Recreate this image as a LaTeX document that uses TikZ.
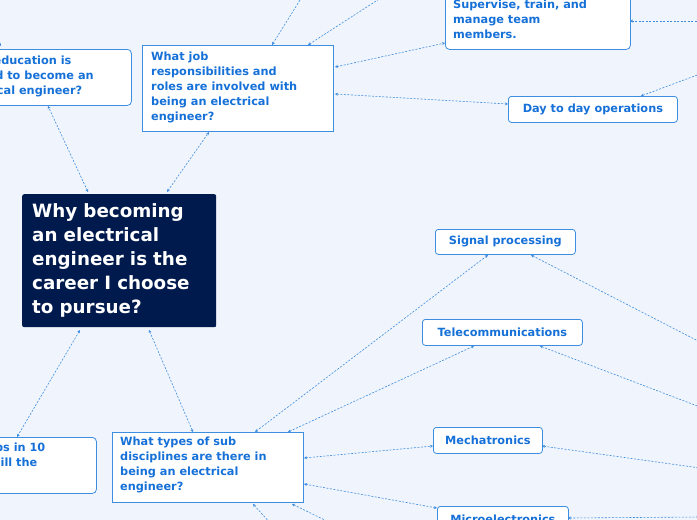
\documentclass[tikz,border=0pt]{standalone}
\usetikzlibrary{arrows.meta}
\usepackage{fontspec}
\setmainfont{DejaVu Sans}
\definecolor{bg}{HTML}{F0F4FD}
\definecolor{tx}{HTML}{1570D8}
\definecolor{bd}{HTML}{3D8EE0}
\definecolor{rootc}{HTML}{001A4D}
\begin{document}
\begin{tikzpicture}[x=1pt,y=-1pt,
 ttx/.style={text=tx,font=\bfseries\fontsize{11.3}{15}\selectfont,align=left,anchor=north west,inner sep=0pt},
 leaf/.style={draw=bd,fill=white,line width=0.8pt,text=tx,font=\bfseries\fontsize{11.3}{15}\selectfont,align=left,rounded corners=3pt,inner xsep=8pt,inner ysep=5pt},
 con/.style={draw=bd,dashed,dash pattern=on 2pt off 1.5pt,line width=0.6pt,<->,>={Stealth[length=3pt,width=3pt]}}]
\useasboundingbox (0,0) rectangle (697,520);
\fill[bg] (0,0) rectangle (697,520);
% root
\node[fill=rootc,text=white,font=\bfseries\fontsize{18.3}{24}\selectfont,align=left,anchor=north west,minimum width=194pt,minimum height=133pt,inner xsep=10pt,text width=174pt,rounded corners=2pt] (root) at (22,194) {Why becoming\\an electrical\\engineer is the\\career I choose\\to pursue?};
% nodes
\node[draw=bd,fill=white,line width=0.8pt,rounded corners=4pt,minimum width=251pt,minimum height=56pt,anchor=north west] (A) at (-120,49) {};
\node[ttx] (At) at (-44,56) {What education is\\needed to become an\\electrical engineer?};
\node[draw=bd,fill=white,line width=0.8pt,minimum width=191pt,minimum height=86pt,anchor=north west] (B) at (142,45) {};
\node[ttx] at (151,52) {What job\\responsibilities and\\roles are involved with\\being an electrical\\engineer?};
\node[draw=bd,fill=white,line width=0.8pt,rounded corners=4pt,minimum width=185pt,minimum height=54pt,anchor=north west] (C) at (445,-5) {};
\node[ttx] at (453,0) {Supervise, train, and\\manage team\\members.};
\node[leaf,minimum width=169pt,minimum height=26pt,anchor=north west] (D) at (508,96) {Day to day operations};
\node[leaf,minimum width=140pt,minimum height=25pt,anchor=north west] (E) at (435,229) {Signal processing};
\node[leaf,minimum width=160pt,minimum height=26pt,anchor=north west] (F) at (422,319) {Telecommunications};
\node[draw=bd,fill=white,line width=0.8pt,minimum width=191pt,minimum height=70pt,anchor=north west] (G) at (112,432) {};
\node[ttx] at (120,437) {What types of sub\\disciplines are there in\\being an electrical\\engineer?};
\node[leaf,minimum width=109pt,minimum height=26pt,anchor=north west] (H) at (433,427) {Mechatronics};
\node[leaf,minimum width=131pt,minimum height=26pt,anchor=north west] (I) at (437,506) {Microelectronics};
\node[draw=bd,fill=white,line width=0.8pt,rounded corners=4pt,minimum width=216pt,minimum height=56pt,anchor=north west] (J) at (-120,437) {};
\node[ttx] at (-112,443) {Where are the jobs in 10\\years and what will the\\field look like?};
% offscreen coords
\coordinate (o1) at (305,-8); \coordinate (o2) at (390,-8);
\coordinate (o3) at (700,21); \coordinate (o4) at (700,74);
\coordinate (o5) at (700,342); \coordinate (o6) at (700,407);
\coordinate (o7) at (700,468); \coordinate (o8) at (700,517);
\coordinate (o9) at (272,525); \coordinate (o10) at (335,525);
\coordinate (o11) at (-10,30);
% connectors
\draw[con] (88,192) -- (48,106);
\draw[con] (167,192) -- (209,132);
\draw[con] (80,330) -- (17,437);
\draw[con] (149,330) -- (193,432);
\draw[con] (272,45) -- (o1);
\draw[con] (308,45) -- (o2);
\draw[con] (335,67) -- (445,43);
\draw[con] (335,94) -- (508,104);
\draw[con] (630,21) -- (o3);
\draw[con] (641,96) -- (o4);
\draw[con] (255,432) -- (488,255);
\draw[con] (288,432) -- (474,346);
\draw[con] (304,458) -- (433,446);
\draw[con] (304,484) -- (437,508);
\draw[con] (253,504) -- (o9);
\draw[con] (292,504) -- (o10);
\draw[con] (531,255) -- (o5);
\draw[con] (540,346) -- (o6);
\draw[con] (542,446) -- (o7);
\draw[con] (568,518) -- (o8);
\draw[con] (1,46) -- (o11);
\end{tikzpicture}
\end{document}
